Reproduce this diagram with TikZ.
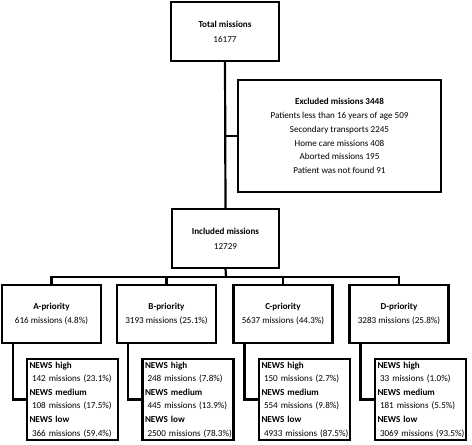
\documentclass[tikz,border=0pt]{standalone}
\usepackage{fontspec}
\setmainfont{Carlito}
\newcommand{\nl}[1]{\mbox{\textbf{#1}}}
\newcommand{\ml}[1]{\mbox{\hspace*{2.5pt}#1}}
\begin{document}
\begin{tikzpicture}[x=1pt,y=-1pt,
  box/.style={draw,line width=2.2pt,inner sep=0pt,outer sep=0pt,align=center,
    font=\fontsize{9.1}{14.8}\selectfont},
  prio/.style={box,minimum width=99pt,minimum height=58pt},
  sub/.style={box,minimum width=91pt,minimum height=81pt,text width=86pt,align=left,
    font=\fontsize{9.1}{13.6}\selectfont},
  conn/.style={line width=2.2pt}]
\useasboundingbox (0,0) rectangle (472,445);
\node[box,minimum width=108pt,minimum height=59pt] (tot) at (225,31.5)
  {\textbf{Total missions}\\16177};
\node[box,minimum width=203pt,minimum height=112pt,font=\fontsize{9.1}{13.7}\selectfont] (exc) at (339.5,136)
  {\textbf{Excluded missions 3448}\\Patients less than 16 years of age 509\\Secondary transports 2245\\Home care missions 408\\Aborted missions 195\\Patient was not found 91};
\node[box,minimum width=107pt,minimum height=59pt] (inc) at (225.5,238.5)
  {\textbf{Included missions}\\12729};
\node[prio] (pA) at (51.5,314) {\textbf{A-priority}\\616 missions (4.8\%)};
\node[prio] (pB) at (166.5,314) {\textbf{B-priority}\\3193 missions (25.1\%)};
\node[prio] (pC) at (283,314) {\textbf{C-priority}\\5637 missions (44.3\%)};
\node[prio] (pD) at (399,314) {\textbf{D-priority}\\3283 missions (25.8\%)};
\node[sub] (nA) at (72.5,399.5) {\nl{NEWS high}\\\ml{142 missions (23.1\%)}\\\nl{NEWS medium}\\\ml{108 missions (17.5\%)}\\\nl{NEWS low}\\\ml{366 missions (59.4\%)}};
\node[sub] (nB) at (188,399.5) {\nl{NEWS high}\\\ml{248 missions (7.8\%)}\\\nl{NEWS medium}\\\ml{445 missions (13.9\%)}\\\nl{NEWS low}\\\ml{2500 missions (78.3\%)}};
\node[sub] (nC) at (304.5,399.5) {\nl{NEWS high}\\\ml{150 missions (2.7\%)}\\\nl{NEWS medium}\\\ml{554 missions (9.8\%)}\\\nl{NEWS low}\\\ml{4933 missions (87.5\%)}};
\node[sub] (nD) at (420.5,399.5) {\nl{NEWS high}\\\ml{33 missions (1.0\%)}\\\nl{NEWS medium}\\\ml{181 missions (5.5\%)}\\\nl{NEWS low}\\\ml{3069 missions (93.5\%)}};
\coordinate (bus) at (226,277);
\draw[conn] (tot.south) -- (inc.north);
\draw[conn] (exc.west) -- (exc.west -| tot.south);
\draw[conn] (inc.south) -- (bus);
\draw[conn] (pA.north) |- (bus) -| (pD.north);
\draw[conn] (pB.north) -- (pB.north |- bus);
\draw[conn] (pC.north) -- (pC.north |- bus);
\foreach \p/\n in {pA/nA,pB/nB,pC/nC,pD/nD}
  \draw[conn] ([xshift=11pt]\p.south west) |- (\n.west);
\end{tikzpicture}
\end{document}
